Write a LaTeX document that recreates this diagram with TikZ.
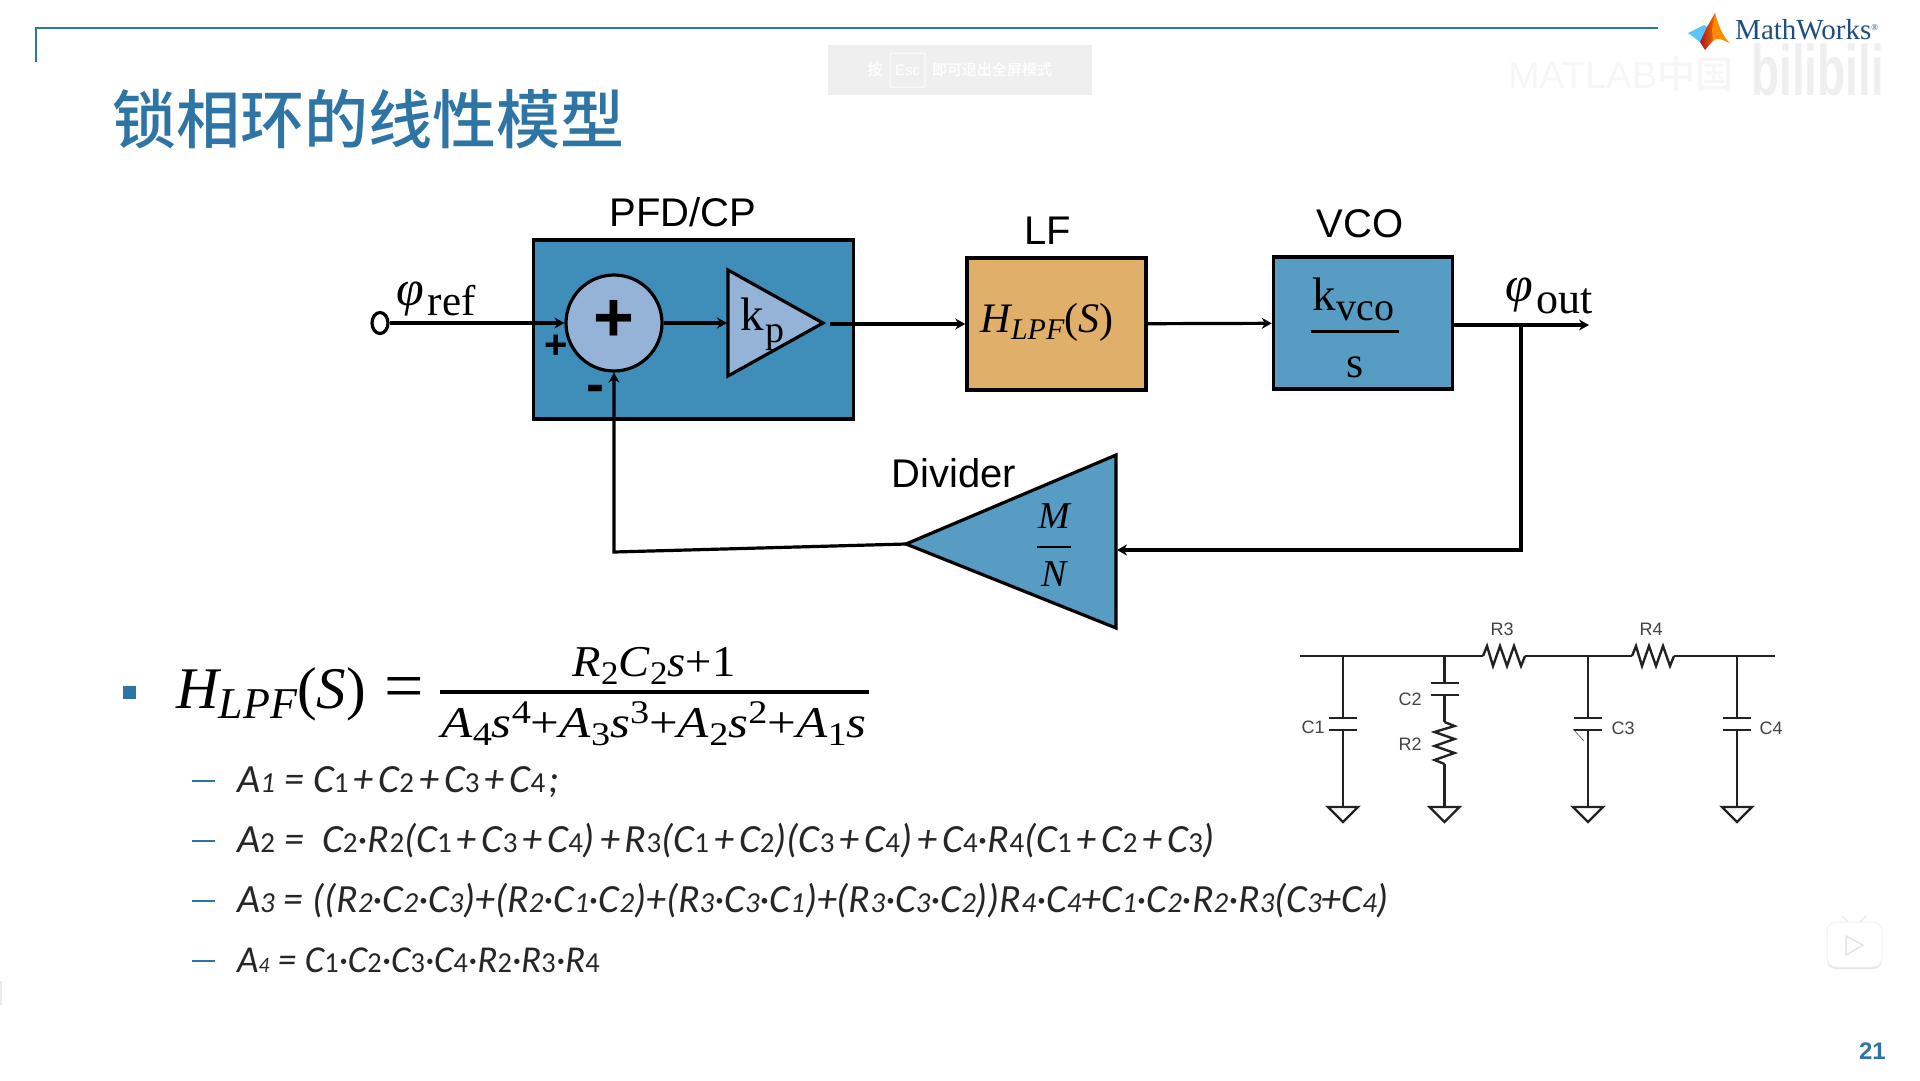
\documentclass[tikz,border=0pt]{standalone}
\usepackage{fontspec}
\usetikzlibrary{shapes.geometric,arrows.meta}
\newfontfamily\cjk[UprightFont=* Medium]{Noto Sans CJK SC}
\newfontfamily\labelfont{Liberation Sans}
\newfontfamily\listfont{Carlito}
\newfontfamily\eqfont{Liberation Serif}
\newcommand{\fsize}[1]{\fontsize{#1}{#1}\selectfont}
\newcommand{\dg}[1]{{\fsize{29}#1}}
\newcommand{\pl}{\hspace{5pt}+\hspace{5pt}}
\newcommand{\lowtext}[3]{\raisebox{#1pt}{\fsize{#2}#3}}
\newcommand{\subd}[1]{\lowtext{-8}{33}{\upshape #1}}
\newcommand{\supd}[1]{\lowtext{14}{33}{\upshape #1}}
\newcommand{\hlpf}[2]{{\itshape H\lowtext{#1}{#2}{LPF}}(\textit{S})}
\definecolor{titleblue}{HTML}{2E75A6}
\definecolor{ruleblue}{HTML}{2A7A9C}
\definecolor{pfdblue}{HTML}{3F8DB9}
\definecolor{vcoblue}{HTML}{579CC3}
\definecolor{sumblue}{HTML}{95B3D7}
\definecolor{lforange}{HTML}{E0B06A}
\definecolor{wiregray}{HTML}{222222}
\definecolor{marklight}{HTML}{EFEFEF}
\definecolor{markpale}{HTML}{F6F6F6}
\definecolor{logonavy}{HTML}{1F4E7E}
\tikzset{
  block/.style={draw=black, line width=3.5pt, inner sep=0pt},
  signal/.style={draw=black, line width=3.2pt},
  blocklabel/.style={inner sep=0pt, font=\labelfont\fsize{40}},
  mathlabel/.style={inner sep=0pt, font=\eqfont\fsize{42}},
  wire/.style={draw=wiregray, line width=2.4pt},
  partlabel/.style={inner sep=0pt, text=wiregray!85, font=\labelfont\fsize{18}},
  listline/.style={anchor=base west, inner sep=0pt, text=black!85, font=\listfont\itshape\fsize{40}},
  listdash/.style={draw=titleblue, line width=2.6pt},
  resistorzig/.pic={\draw[wire] (0,0) -- (4,-10) -- (10,10) -- (17,-10) -- (24,10) -- (31,-10) -- (38,10) -- (42,0);},
  groundmark/.pic={\draw[wire, line join=miter] (-15,0) -- (15,0) -- (0,15) -- cycle;}
}
\begin{document}
\begin{tikzpicture}[x=1pt, y=-1pt, >={Stealth[length=10pt,width=11pt]}]
\useasboundingbox (0,0) rectangle (1920,1080);

\draw [draw=ruleblue, line width=2pt] (36,62) -- (36,28) -- (1658,28);
\node [anchor=west, inner sep=0pt, text=titleblue, font=\cjk\fsize{64}] (title) at (112,119) {锁相环的线性模型};

\fill [marklight] (828,45) rectangle (1092,95);
\node [text=white, inner sep=0pt, font=\cjk\fsize{15}] (esc-press) at (875,70) {按};
\node [draw=white, line width=1pt, rounded corners=1pt, text=white, inner sep=0pt, minimum width=35pt, minimum height=34pt, font=\labelfont\fsize{15}] (esc-key) at (907.5,70) {Esc};
\node [anchor=west, text=white, inner sep=0pt, font=\cjk\fsize{15}] (esc-text) at (932,70) {即可退出全屏模式};

\node [anchor=west, inner sep=0pt, text=markpale, font=\labelfont\fsize{38}] (matlab-mark) at (1508,74) {MATLAB\cjk 中国};
\node [anchor=west, inner sep=0pt, text=marklight, font=\labelfont\bfseries\fsize{46}] (bili-mark) at (1751,70) {\scalebox{1}[1.55]{bilibili}};

\fill [color=blue!35!cyan!65] (1688,33) -- (1704,25) -- (1710,29) -- (1700,42) -- cycle;
\shade [left color=red!60!black!90, right color=orange!85!red] (1700,42) -- (1705,50) -- (1716,37) -- (1715,13) -- (1707,27) -- cycle;
\fill [color=orange!90!yellow] (1715,13) .. controls (1719,28) and (1724,38) .. (1730,43) .. controls (1723,41) and (1719,36) .. (1713,41) -- (1712,30) -- cycle;
\node [anchor=base west, inner sep=0pt, text=logonavy, font=\eqfont\fsize{29}] (mathworks) at (1735,39) {MathWorks\raisebox{9pt}{\fsize{9}®}};

\node [block, fill=pfdblue, minimum width=320pt, minimum height=179pt] (pfd) at (693.5,329.5) {};
\node [block, fill=lforange, minimum width=179pt, minimum height=132pt] (lf) at (1056.5,324) {};
\node [block, fill=vcoblue, minimum width=179pt, minimum height=132pt] (vco) at (1363,323) {};
\node [blocklabel] (pfd-name) at (683,212) {PFD/CP};
\node [blocklabel] (lf-name) at (1048,231) {LF};
\node [blocklabel] (vco-name) at (1360,224) {VCO};
\node [blocklabel] (div-name) at (954,473) {Divider};

\node [circle, draw=black, line width=3.2pt, fill=sumblue, inner sep=0pt, minimum size=96pt] (sum) at (614,323) {};
\node [inner sep=0pt, font=\labelfont\bfseries\fsize{70}] (sum-plus) at (614,321) {+};
\node [inner sep=0pt, font=\labelfont\bfseries\fsize{40}] (plus-in) at (556,347) {+};
\node [inner sep=0pt, font=\labelfont\bfseries\fsize{54}] (minus-in) at (595,394) {-};

\draw [draw=black, fill=sumblue, line width=3.2pt] (728,270) -- (823,323) -- (728,376) -- cycle;
\coordinate (kp-in) at (727,323);
\coordinate (kp-out) at (830,324);
\node [mathlabel, anchor=base west, font=\eqfont\fsize{47}] (kp-label) at (740,330) {k\hspace{2pt}\lowtext{-12}{38}{p}};

\draw [draw=black, fill=vcoblue, line width=3.2pt] (906,544) -- (1116,455) -- (1116,628) -- cycle;
\coordinate (div-in) at (1117,550);
\coordinate (div-out) at (906,544);
\node [mathlabel, font=\eqfont\itshape\fsize{38}] (div-m) at (1054,516) {M};
\draw [draw=black, line width=2.4pt] (1037,547) -- (1071,547);
\node [mathlabel, font=\eqfont\itshape\fsize{38}] (div-n) at (1054,574) {N};

\node [mathlabel] (lf-label) at (1047,322) {\hlpf{-7}{30}};
\node [mathlabel, anchor=base west, font=\eqfont\fsize{47}] (vco-k) at (1312,310) {k\hspace{1pt}\lowtext{-10}{40}{vco}};
\draw [draw=black, line width=3pt] (1311,331) -- (1399,331);
\node [mathlabel, anchor=base, font=\eqfont\fsize{44}] (vco-s) at (1355,377) {s};

\node [ellipse, draw=black, line width=3.2pt, inner sep=0pt, minimum width=16pt, minimum height=21pt] (ref-in) at (380,323) {};
\node [mathlabel, anchor=base west, font=\eqfont\fsize{50}] (ref-label) at (396,305) {\textit{φ}\hspace{4pt}\lowtext{-10}{43}{ref}};
\node [mathlabel, anchor=base west, font=\eqfont\fsize{50}] (out-label) at (1505,301) {\textit{φ}\hspace{4pt}\lowtext{-12}{44}{out}};

\coordinate (out-end) at (1589,325);
\coordinate (branch) at (1521,325);
\coordinate (fb-right) at (1521,550);
\coordinate (fb-left) at (614,552);

\draw [signal, ->] (ref-in) -- (sum);
\draw [signal, ->] (sum) -- (kp-in);
\draw [signal, ->] (kp-out) -- (lf);
\draw [signal, ->] (lf) -- (vco);
\draw [signal, ->] (vco.east |- out-end) -- (out-end);
\draw [signal, ->, line join=miter] (branch) -- (fb-right) -- (div-in);
\draw [signal, ->, line join=miter] (div-out) -- (fb-left) -- (sum);

\coordinate (rc-left) at (1300,656);
\coordinate (rc-right) at (1775,656);
\coordinate (r3-a) at (1483,656);
\coordinate (r3-b) at (1525,656);
\coordinate (r4-a) at (1632,656);
\coordinate (r4-b) at (1674,656);
\draw [wire] (rc-left) -- (r3-a);
\pic at (r3-a) {resistorzig};
\draw [wire] (r3-b) -- (r4-a);
\pic at (r4-a) {resistorzig};
\draw [wire] (r4-b) -- (rc-right);

\foreach \c/\x in {1/1343,3/1588,4/1737} {
  \coordinate (cap\c-top) at (\x,656);
  \coordinate (cap\c-a) at (\x,718);
  \coordinate (cap\c-b) at (\x,730);
  \coordinate (cap\c-gnd) at (\x,807);
  \draw [wire] (cap\c-top) -- (cap\c-a);
  \draw [wire] (cap\c-b) -- (cap\c-gnd);
  \draw [wire] (\x-14,718) -- (\x+14,718);
  \draw [wire] (\x-14,730) -- (\x+14,730);
  \pic at (cap\c-gnd) {groundmark};
}
\draw [draw=black!70, line width=.6pt] (1573,729) -- (1584,741);

\coordinate (cap2-top) at (1444.5,656);
\coordinate (cap2-a) at (1444.5,683);
\coordinate (cap2-b) at (1444.5,695);
\coordinate (r2-a) at (1444.5,722);
\coordinate (r2-b) at (1444.5,764);
\coordinate (r2-gnd) at (1444.5,807);
\draw [wire] (cap2-top) -- (cap2-a);
\draw [wire] (1430.5,683) -- (1458.5,683);
\draw [wire] (1430.5,695) -- (1458.5,695);
\draw [wire] (cap2-b) -- (r2-a);
\pic [rotate=-90] at (r2-a) {resistorzig};
\draw [wire] (r2-b) -- (r2-gnd);
\pic at (r2-gnd) {groundmark};

\node [partlabel] (c1-name) at (1313,727) {C1};
\node [partlabel] (c2-name) at (1410,699) {C2};
\node [partlabel] (r2-name) at (1410,744) {R2};
\node [partlabel] (c3-name) at (1623,728) {C3};
\node [partlabel] (c4-name) at (1771,728) {C4};
\node [partlabel] (r3-name) at (1502,629) {R3};
\node [partlabel] (r4-name) at (1651,629) {R4};

\fill [titleblue] (123,686) rectangle (136,699);
\node [inner sep=0pt, anchor=base west, font=\eqfont\fsize{59}] (hlpf) at (176,708) {\hlpf{-10}{44}};
\node [inner sep=0pt, font=\eqfont\fsize{70}] (equals) at (404,693) {=};
\node [inner sep=0pt, anchor=base, font=\eqfont\fsize{44}] (numer) at (654,676) {\scalebox{1.06}[1]{\textit{R}\subd{2}\textit{C}\subd{2}\textit{s}+1}};
\draw [draw=black, line width=3.2pt] (440,692) -- (869,692);
\node [inner sep=0pt, anchor=base, font=\eqfont\fsize{44}] (denom) at (654,737) {\scalebox{1.16}[1]{\textit{A}\subd{4}\textit{s}\supd{4}+\textit{A}\subd{3}\textit{s}\supd{3}+\textit{A}\subd{2}\textit{s}\supd{2}+\textit{A}\subd{1}\textit{s}}};

\foreach \y in {781,841,901,961}
  \draw [listdash] (192,\y) -- (215,\y);

\node [listline] (line-a1) at (237,792) {A\dg{1} = C\dg{\upshape 1}\pl C\dg{\upshape 2}\pl C\dg{\upshape 3}\pl C\dg{\upshape 4}\hspace{3pt};};
\node [listline] (line-a2) at (237,852) {A\dg{\upshape 2} =\ \ C\dg{\upshape 2}·R\dg{\upshape 2}(C\dg{\upshape 1}\pl C\dg{\upshape 3}\pl C\dg{\upshape 4})\pl R\dg{\upshape 3}(C\dg{\upshape 1}\pl C\dg{\upshape 2})(C\dg{\upshape 3}\pl C\dg{\upshape 4})\pl C\dg{\upshape 4}·R\dg{\upshape 4}(C\dg{\upshape 1}\pl C\dg{\upshape 2}\pl C\dg{\upshape 3})};
\node [listline] (line-a3) at (237,912) {\scalebox{.993}[1]{A\dg{3} = ((R\dg{2}·C\dg{2}·C\dg{3})+(R\dg{2}·C\dg{1}·C\dg{2})+(R\dg{3}·C\dg{3}·C\dg{1})+(R\dg{3}·C\dg{3}·C\dg{2}))R\dg{4}·C\dg{4}+C\dg{1}·C\dg{2}·R\dg{2}·R\dg{3}(C\dg{3}+C\dg{4})}};
\node [listline, font=\listfont\itshape\fsize{38}] (line-a4) at (237,972) {\scalebox{.977}[1]{A{\fsize{22}4} = C\dg{\upshape 1}·C\dg{\upshape 2}·C\dg{\upshape 3}·C\dg{\upshape 4}·R\dg{\upshape 2}·R\dg{\upshape 3}·R\dg{\upshape 4}}};

\node [anchor=base east, inner sep=0pt, text=titleblue, font=\labelfont\bfseries\fsize{24}] (page-no) at (1886,1059) {21};

\draw [draw=black!7, line width=1.5pt, line cap=round] (1842,916) -- (1848,922);
\draw [draw=black!7, line width=1.5pt, line cap=round] (1866,916) -- (1860,922);
\fill [black!10, rounded corners=9pt] (1827,924) rectangle (1882,969);
\draw [draw=black!5, fill=white, line width=1pt, rounded corners=9pt] (1827,922) rectangle (1882,967);
\draw [draw=black!10, line width=1.5pt, line join=round] (1846,936) -- (1863,945) -- (1846,955) -- cycle;
\fill [fill=blue!10!black!8] (0,981) rectangle (1.5,1005);
\end{tikzpicture}
\end{document}
